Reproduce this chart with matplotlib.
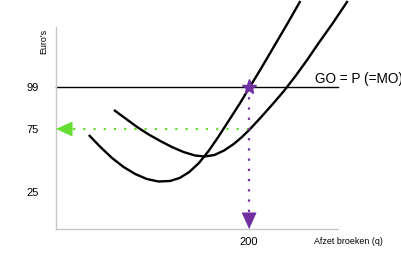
import matplotlib
matplotlib.use("Agg")
import matplotlib.pyplot as plt

# --- data (schematic units: x = quantity, y = vertical plot units) ---
curve_a_x = [34, 46, 58, 70, 82, 94, 106, 118, 128, 138, 148, 158, 168, 178, 190, 200, 212, 226, 240, 253]
curve_a_y = [94, 82, 71, 62, 55, 50, 47.5, 48, 51, 57, 66, 78, 92, 107, 125, 141, 160, 183, 206, 228]
curve_b_x = [60, 72, 84, 96, 108, 120, 132, 144, 154, 164, 174, 184, 192, 200, 212, 224, 236, 248, 260, 272, 286, 302]
curve_b_y = [119, 110.5, 102, 94.5, 88, 82, 77, 73.5, 72.5, 74, 78.5, 85, 91.5, 99, 111.5, 124.5, 138, 153, 169, 186, 205, 228]
price_level = 142          # plot-y of the price line (labelled 99)
cost_level = 100           # plot-y of the cost level (labelled 75)
q_star = 200
ytick_pos = [37, 100, 142]
ytick_labels = ["25", "75", "99"]
xtick_pos = [200]
xtick_labels = ["200"]
x_max, y_max = 292, 202

fig = plt.figure(figsize=(4.02, 2.78), dpi=100)
ax = fig.add_axes([56/402, 49/278, 282/402, 202/278])
ax.set_xlim(0, x_max)
ax.set_ylim(0, y_max)
for s in ["top", "right"]:
    ax.spines[s].set_visible(False)
for s in ["left", "bottom"]:
    ax.spines[s].set_color("#c8c8c8")
    ax.spines[s].set_linewidth(1.0)

font = ["Liberation Sans", "DejaVu Sans"]
ax.set_yticks(ytick_pos)
ax.set_yticklabels(ytick_labels, family=font, fontsize=8)
ax.set_xticks(xtick_pos)
ax.set_xticklabels(xtick_labels, family=font, fontsize=8)
ax.tick_params(length=0, pad=12.5)
ax.tick_params(axis="x", pad=6)

# price line
ax.plot([0, x_max], [price_level, price_level], color="black", lw=1.0, clip_on=False)

# curves
ax.plot(curve_a_x, curve_a_y, color="black", lw=1.7, clip_on=False, solid_joinstyle="round", solid_capstyle="butt")
ax.plot(curve_b_x, curve_b_y, color="black", lw=1.7, clip_on=False, solid_joinstyle="round", solid_capstyle="butt")

green = "#66dd33"
purple = "#7030a0"
# green dotted arrow
ax.plot([18, q_star], [cost_level, cost_level], color=green, lw=1.6,
        linestyle=(0, (1, 3.6)), dash_capstyle="butt")
ax.annotate("", xy=(0, cost_level), xytext=(17, cost_level),
            arrowprops=dict(arrowstyle="-|>,head_length=0.55,head_width=0.25",
                            color=green, lw=0.5, shrinkA=0, shrinkB=0, mutation_scale=20))
# purple dotted arrow
ax.plot([q_star, q_star], [price_level, 17], color=purple, lw=1.6,
        linestyle=(0, (1, 3.6)), dash_capstyle="butt")
ax.annotate("", xy=(q_star, 0), xytext=(q_star, 16),
            arrowprops=dict(arrowstyle="-|>,head_length=0.55,head_width=0.25",
                            color=purple, lw=0.5, shrinkA=0, shrinkB=0, mutation_scale=20))
ax.plot([q_star], [price_level], marker="*", color=purple, markersize=11, clip_on=False)

ax.text(268, price_level + 4, "GO = P (=MO)", family=font, fontsize=9.8, ha="left", va="baseline", clip_on=False)
ax.text(267, -12, "Afzet broeken (q)", family=font, fontsize=6.4, ha="left", va="center", clip_on=False)
ax.text(-13, 188, "Euro's", family=font, fontsize=6.4, rotation=90, ha="center", va="center")

fig.savefig("out.png", dpi=100)
